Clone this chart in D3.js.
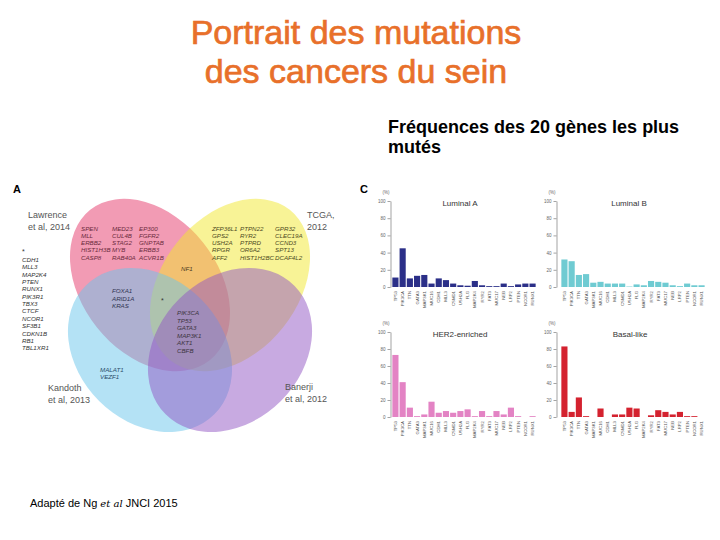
<!DOCTYPE html>
<html>
<head>
<meta charset="utf-8">
<script src="https://cdn.jsdelivr.net/npm/d3@7"></script>
<style>
  body { margin: 0; background: #fff; }
  text { font-family: "Liberation Sans", Arial, sans-serif; }
</style>
</head>
<body>
<svg id="slide" width="720" height="540"></svg>
<script>
// ─── Data ────────────────────────────────────────────────────────────────
const genes = ["TP53","PIK3CA","TTN","GATA3","MAP3K1","MUC16","CDH1","MLL3","CSMD1","USH2A",
               "FLG","MAP2K4","RYR2","FAT3","MUC17","NEB","LRP2","PTEN","NCOR1","RUNX1"];
const luminalA = [11,45,10,13,14,4,10,8,4,2,1.5,7,2,1,1,4,1,3,4,4];
const luminalB = [32,30,14,15,5,6,4,4,4,0.5,3,2,7,6,5,2,1,4,2,2];
const her2     = [73,41,11,1,3,18,5,7,5,7,9,1,7,1,7,3,11,1,0,1];
const basal    = [83,6,23,1,0,10,0,3,3,11,10,0,2,8,6,3,6,1,1,0];
const yTicks   = [0,20,40,60,80,100];

// Venn gene lists
const lawrenceOnly = [["SPEN","MLL","ERBB2","HIST1H3B","CASP8"],
                      ["MED23","CUL4B","STAG2","MYB","RAB40A"],
                      ["EP300","FGFR2","GNPTAB","ERBB3","ACVR1B"]];
const tcgaOnly     = [["ZFP36L1","GPS2","USH2A","RPGR","AFF2"],
                      ["PTPN22","RYR2","PTPRD","OR6A2","HIST1H2BC"],
                      ["GPR32","CLEC19A","CCND3","SPT13","DCAF4L2"]];
const allFour      = ["PIK3CA","TP53","GATA3","MAP3K1","AKT1","CBFB"];
const lawKandoth   = ["FOXA1","ARID1A","KRAS"];
const lawTcga      = ["NF1"];
const kandothOnly  = ["MALAT1","VEZF1"];
const starGenes    = ["CDH1","MLL3","MAP2K4","PTEN","RUNX1","PIK3R1","TBX3","CTCF",
                      "NCOR1","SF3B1","CDKN1B","RB1","TBL1XR1"];

const svg = d3.select("#slide");

// ─── Titles ──────────────────────────────────────────────────────────────
["Portrait des mutations", "des cancers du sein"].forEach((s, i) =>
  svg.append("text").attr("x", 356).attr("y", 44 + i * 39).attr("text-anchor", "middle")
    .attr("font-size", 34).attr("fill", "#e8702a")
    .attr("stroke", "#e8702a").attr("stroke-width", 0.7).text(s));

svg.append("text").attr("x", 388).attr("y", 133).attr("font-size", 18)
  .attr("font-weight", "bold").text("Fréquences des 20 gènes les plus");
svg.append("text").attr("x", 388).attr("y", 153).attr("font-size", 18)
  .attr("font-weight", "bold").text("mutés");

// ─── Venn diagram (panel A) ──────────────────────────────────────────────
const venn = svg.append("g").attr("class", "venn");
venn.append("text").attr("x", 13).attr("y", 193).attr("font-size", 11)
  .attr("font-weight", "bold").text("A");

const ellipses = [
  { name: "Lawrence", cx: 150, cy: 285, rx: 96, ry: 68, rot: 51.5,  fill: "#e53769" },
  { name: "TCGA",     cx: 230, cy: 285, rx: 96, ry: 68, rot: -51.5, fill: "#f1e72d" },
  { name: "Kandoth",  cx: 150, cy: 350, rx: 91, ry: 72, rot: 45,    fill: "#69c5eb" },
  { name: "Banerji",  cx: 230, cy: 350, rx: 91, ry: 72, rot: -45,   fill: "#9155c3" }
];
venn.selectAll("ellipse").data(ellipses).join("ellipse")
  .attr("cx", d => d.cx).attr("cy", d => d.cy)
  .attr("rx", d => d.rx).attr("ry", d => d.ry)
  .attr("transform", d => `rotate(${d.rot},${d.cx},${d.cy})`)
  .attr("fill", d => d.fill).attr("fill-opacity", 0.5);

function setLabel(x, y, lines) {
  lines.forEach((s, i) => venn.append("text").attr("x", x).attr("y", y + i * 11.5)
    .attr("font-size", 9).attr("fill", "#555").text(s));
}
setLabel(28, 218, ["Lawrence", "et al, 2014"]);
setLabel(307, 218, ["TCGA,", "2012"]);
setLabel(48, 391, ["Kandoth", "et al, 2013"]);
setLabel(285, 390, ["Banerji", "et al, 2012"]);

function geneList(list, x, y, step, color) {
  venn.append("g").selectAll("text").data(list).join("text")
    .attr("x", x).attr("y", (d, i) => y + i * step)
    .attr("font-size", 6.2).attr("font-style", "italic").attr("fill", color)
    .text(d => d);
}
const pinkCols = [81, 112, 139], yellowCols = [212, 240, 275];
lawrenceOnly.forEach((col, i) => geneList(col, pinkCols[i], 230.5, 7.3, "#6b2a3c"));
tcgaOnly.forEach((col, i) => geneList(col, yellowCols[i], 230.5, 7.3, "#4d4a22"));
geneList(allFour, 177, 315, 7.5, "#3c3440");
geneList(lawKandoth, 112, 293, 7.5, "#2f3450");
geneList(lawTcga, 181, 271, 7.5, "#4a3a20");
geneList(kandothOnly, 100, 372, 7.3, "#2a4d6a");
venn.append("text").attr("x", 161).attr("y", 303).attr("font-size", 7).attr("fill", "#333").text("*");
venn.append("text").attr("x", 22).attr("y", 254).attr("font-size", 7).attr("fill", "#333").text("*");
geneList(starGenes, 22, 262, 7.35, "#333");

// footnote
const foot = svg.append("text").attr("x", 30).attr("y", 507).attr("font-size", 11)
  .attr("font-family", "'Liberation Sans Narrow', 'Arial Narrow', sans-serif");
foot.append("tspan").text("Adapté de Ng ");
foot.append("tspan").attr("font-style", "italic").attr("font-family", "'DejaVu Serif', serif")
  .attr("font-size", 10).text("et al");
foot.append("tspan").text(" JNCI 2015");

// ─── Bar charts (panel C) ────────────────────────────────────────────────
svg.append("text").attr("x", 360).attr("y", 193).attr("font-size", 11)
  .attr("font-weight", "bold").text("C");

const panels = [
  { title: "Luminal A",     values: luminalA, color: "#2b2f88", axisX: 390.5, xr: [392, 536], y0: 287, y1: 201, tx: 460 },
  { title: "Luminal B",     values: luminalB, color: "#6fcbd2", axisX: 556.5, xr: [561, 705], y0: 287, y1: 201, tx: 629 },
  { title: "HER2-enriched", values: her2,     color: "#e383c4", axisX: 390.5, xr: [392, 536], y0: 417, y1: 332, tx: 460 },
  { title: "Basal-like",    values: basal,    color: "#d4222f", axisX: 556.5, xr: [561, 705], y0: 417, y1: 332, tx: 630 }
];

panels.forEach(p => {
  const g = svg.append("g");
  const x = d3.scaleBand().domain(genes).range(p.xr).paddingInner(0.15).paddingOuter(0.05);
  const y = d3.scaleLinear().domain([0, 100]).range([p.y0, p.y1]);

  const ax = g.append("g").attr("transform", `translate(${p.axisX},0)`)
    .call(d3.axisLeft(y).tickValues(yTicks).tickSize(3).tickSizeOuter(0).tickPadding(2));
  ax.select(".domain").attr("stroke", "#666").attr("stroke-width", 0.6);
  ax.selectAll(".tick line").attr("stroke", "#666").attr("stroke-width", 0.6);
  ax.selectAll(".tick text").attr("font-size", 4.5).attr("fill", "#666")
    .attr("font-family", "'Liberation Sans', Arial, sans-serif");

  g.append("text").attr("x", p.axisX - 8).attr("y", p.y1 - 7).attr("font-size", 4.5)
    .attr("fill", "#666").text("(%)");

  g.append("text").attr("x", p.tx).attr("y", p.y1 + 5).attr("text-anchor", "middle")
    .attr("font-size", 8).attr("fill", "#333").text(p.title);

  g.selectAll("rect").data(p.values).join("rect")
    .attr("x", (d, i) => x(genes[i])).attr("width", x.bandwidth())
    .attr("y", d => y(d)).attr("height", d => y(0) - y(d))
    .attr("fill", p.color);

  g.selectAll(".glab").data(genes).join("text").attr("class", "glab")
    .attr("transform", d => `translate(${x(d) + x.bandwidth() / 2 + 1.5},${p.y0 + 4}) rotate(-90)`)
    .attr("text-anchor", "end").attr("font-size", 4.3).attr("fill", "#555")
    .text(d => d);
});
</script>
</body>
</html>
